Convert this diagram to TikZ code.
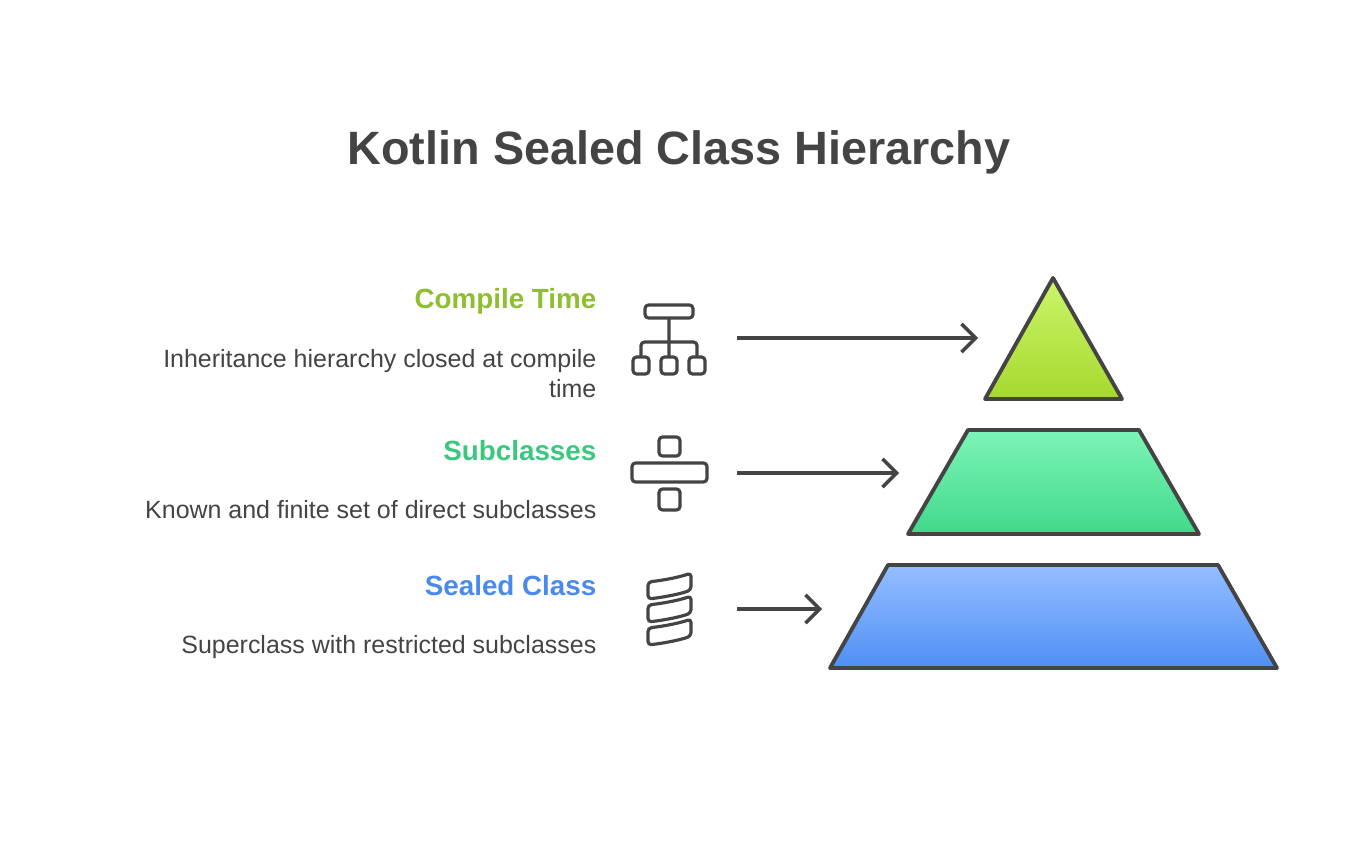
\documentclass[tikz,border=0pt]{standalone}
\usepackage{fontspec}
\setmainfont{Liberation Sans}
\usetikzlibrary{arrows.meta}
\definecolor{ink}{HTML}{444444}
\definecolor{limeT}{HTML}{8DBF2F}
\definecolor{mintT}{HTML}{3CC77E}
\definecolor{blueT}{HTML}{4A8AEE}
\definecolor{limeA}{HTML}{CCF56A}
\definecolor{limeB}{HTML}{A6D92F}
\definecolor{mintA}{HTML}{7DF4B8}
\definecolor{mintB}{HTML}{41D98A}
\definecolor{blueA}{HTML}{95BEFF}
\definecolor{blueB}{HTML}{4F8FF5}
\begin{document}
\begin{tikzpicture}[x=0.01cm,y=-0.01cm,
    level/.style={draw=ink,line width=1.1pt,line join=round},
    head/.style={anchor=base east,inner sep=0pt,font=\bfseries\fontsize{7.9}{9}\selectfont},
    desc/.style={anchor=base east,inner sep=0pt,align=right,text=ink,font=\fontsize{7.1}{8.5}\selectfont},
    pointer/.style={draw=ink,line width=1pt,-{Straight Barb[length=4pt,width=8pt]}},
    icon/.style={draw=ink,line width=0.9pt,rounded corners=1pt}]
  \useasboundingbox (0,0) rectangle (1358,843);
  \node[font=\bfseries\fontsize{13.3}{16}\selectfont,text=ink] (title) at (679,152) {Kotlin Sealed Class Hierarchy};
  % pyramid levels
  \shadedraw[level,top color=limeA,bottom color=limeB]
    (1053,278) -- (1122,399) -- (985,399) -- cycle;
  \shadedraw[level,top color=mintA,bottom color=mintB]
    (968,430) -- (1139,430) -- (1199,534) -- (908,534) -- cycle;
  \shadedraw[level,top color=blueA,bottom color=blueB]
    (888,565) -- (1218,565) -- (1277,668) -- (830,668) -- cycle;
  \coordinate (apex) at (978,338);
  \coordinate (mid) at (899,473);
  \coordinate (base) at (822,609);
  % texts
  \node[head,text=limeT] (h1) at (597,309) {Compile Time};
  \node[desc] (d1) at (597,397) {Inheritance hierarchy closed at compile\\time};
  \node[head,text=mintT] (h2) at (597,460) {Subclasses};
  \node[desc] (d2) at (597,518) {Known and finite set of direct subclasses};
  \node[head,text=blueT] (h3) at (597,595) {Sealed Class};
  \node[desc] (d3) at (597,653) {Superclass with restricted subclasses};
  % icons
  \coordinate (i1) at (737,338);
  \coordinate (i2) at (737,473);
  \coordinate (i3) at (737,609);
  \draw[icon] (645,305) rectangle (693,318);
  \draw[icon] (669,318) -- (669,342) (641,357) |- (697,342) -- (697,357) (669,342) -- (669,357);
  \foreach \x in {633,661,689}
    \draw[icon] (\x,357) rectangle ++(16,17);
  \draw[icon] (659,437) rectangle (680,456);
  \draw[icon] (632,463) rectangle (707,482);
  \draw[icon] (659,489) rectangle (680,510);
  \foreach \y in {0,23,46}
    \draw[icon] (648,582+\y) .. controls (665,580+\y) and (680,577+\y) .. (691,573+\y)
      -- (691,590+\y) .. controls (680,594+\y) and (665,597+\y) .. (648,599+\y) -- cycle;
  % connectors
  \draw[pointer] (i1) -- (apex);
  \draw[pointer] (i2) -- (mid);
  \draw[pointer] (i3) -- (base);
\end{tikzpicture}
\end{document}
